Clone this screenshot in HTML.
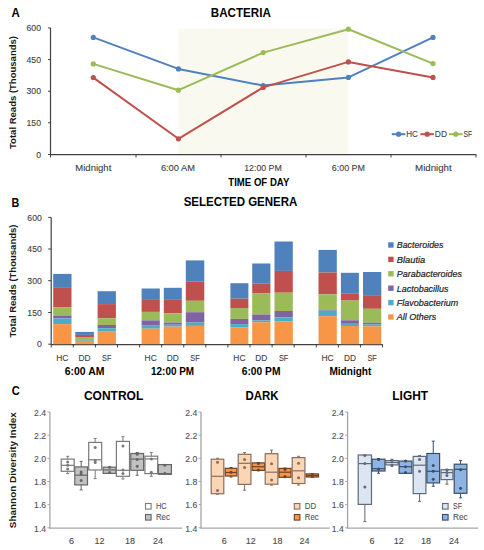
<!DOCTYPE html>
<html><head><meta charset="utf-8"><style>
html,body{margin:0;padding:0;background:#fff;width:484px;height:550px;overflow:hidden}
svg{display:block;font-family:"Liberation Sans", sans-serif}
</style></head><body>
<svg width="484" height="550" viewBox="0 0 484 550">
<rect width="484" height="550" fill="#fff"/>
<text x="11.6" y="16.6" font-size="12.3" text-anchor="start" font-weight="bold" font-style="normal" fill="#000" textLength="8.3" lengthAdjust="spacingAndGlyphs" >A</text>
<text x="240.8" y="16.5" font-size="12.5" text-anchor="middle" font-weight="bold" font-style="normal" fill="#000" textLength="60" lengthAdjust="spacingAndGlyphs" >BACTERIA</text>
<rect x="178.4" y="28.5" width="169.7" height="126" fill="#FAF9F0" stroke="none" stroke-width="0"/>
<line x1="50.5" y1="27.9" x2="50.5" y2="155.2" stroke="#404040" stroke-width="1.2"/>
<line x1="50" y1="154.6" x2="476.3" y2="154.6" stroke="#404040" stroke-width="1.2"/>
<line x1="48" y1="27.9" x2="50.5" y2="27.9" stroke="#404040" stroke-width="1"/>
<text x="41" y="31.0" font-size="8.7" text-anchor="end" font-weight="normal" font-style="normal" fill="#404040" stroke="#404040" stroke-width="0.1" >600</text>
<line x1="48" y1="59.6" x2="50.5" y2="59.6" stroke="#404040" stroke-width="1"/>
<text x="41" y="62.7" font-size="8.7" text-anchor="end" font-weight="normal" font-style="normal" fill="#404040" stroke="#404040" stroke-width="0.1" >450</text>
<line x1="48" y1="91.2" x2="50.5" y2="91.2" stroke="#404040" stroke-width="1"/>
<text x="41" y="94.3" font-size="8.7" text-anchor="end" font-weight="normal" font-style="normal" fill="#404040" stroke="#404040" stroke-width="0.1" >300</text>
<line x1="48" y1="122.8" x2="50.5" y2="122.8" stroke="#404040" stroke-width="1"/>
<text x="41" y="125.89999999999999" font-size="8.7" text-anchor="end" font-weight="normal" font-style="normal" fill="#404040" stroke="#404040" stroke-width="0.1" >150</text>
<line x1="48" y1="154.5" x2="50.5" y2="154.5" stroke="#404040" stroke-width="1"/>
<text x="41" y="157.6" font-size="8.7" text-anchor="end" font-weight="normal" font-style="normal" fill="#404040" stroke="#404040" stroke-width="0.1" >0</text>
<line x1="50.5" y1="154.5" x2="50.5" y2="157.5" stroke="#404040" stroke-width="1"/>
<line x1="136" y1="154.5" x2="136" y2="157.5" stroke="#404040" stroke-width="1"/>
<line x1="221" y1="154.5" x2="221" y2="157.5" stroke="#404040" stroke-width="1"/>
<line x1="306" y1="154.5" x2="306" y2="157.5" stroke="#404040" stroke-width="1"/>
<line x1="391" y1="154.5" x2="391" y2="157.5" stroke="#404040" stroke-width="1"/>
<line x1="476" y1="154.5" x2="476" y2="157.5" stroke="#404040" stroke-width="1"/>
<text x="93.3" y="170.6" font-size="8.7" text-anchor="middle" font-weight="normal" font-style="normal" fill="#404040" textLength="36" lengthAdjust="spacingAndGlyphs" stroke="#404040" stroke-width="0.1" >Midnight</text>
<text x="177.9" y="170.6" font-size="8.7" text-anchor="middle" font-weight="normal" font-style="normal" fill="#404040" textLength="34" lengthAdjust="spacingAndGlyphs" stroke="#404040" stroke-width="0.1" >6:00 AM</text>
<text x="263" y="170.6" font-size="8.7" text-anchor="middle" font-weight="normal" font-style="normal" fill="#404040" textLength="37.6" lengthAdjust="spacingAndGlyphs" stroke="#404040" stroke-width="0.1" >12:00 PM</text>
<text x="348.4" y="170.6" font-size="8.7" text-anchor="middle" font-weight="normal" font-style="normal" fill="#404040" textLength="33.1" lengthAdjust="spacingAndGlyphs" stroke="#404040" stroke-width="0.1" >6:00 PM</text>
<text x="433.4" y="170.6" font-size="8.7" text-anchor="middle" font-weight="normal" font-style="normal" fill="#404040" textLength="36.6" lengthAdjust="spacingAndGlyphs" stroke="#404040" stroke-width="0.1" >Midnight</text>
<text x="258.8" y="185.5" font-size="10" text-anchor="middle" font-weight="bold" font-style="normal" fill="#000" textLength="61" lengthAdjust="spacingAndGlyphs" >TIME OF DAY</text>
<text transform="translate(15.8,92.5) rotate(-90)" font-size="9.3" text-anchor="middle" font-weight="bold" fill="#1a1a1a" textLength="113" lengthAdjust="spacingAndGlyphs">Total Reads (Thousands)</text>
<polyline points="93.3,37.4 178.4,68.9 263.2,85.6 348.4,77.4 433.0,37.4" fill="none" stroke="#4F81BD" stroke-width="2" stroke-linejoin="round"/>
<circle cx="93.3" cy="37.4" r="2.6" fill="#4F81BD"/>
<circle cx="178.4" cy="68.9" r="2.6" fill="#4F81BD"/>
<circle cx="263.2" cy="85.6" r="2.6" fill="#4F81BD"/>
<circle cx="348.4" cy="77.4" r="2.6" fill="#4F81BD"/>
<circle cx="433.0" cy="37.4" r="2.6" fill="#4F81BD"/>
<polyline points="93.3,77.6 178.4,138.8 263.2,87.4 348.4,61.9 433.0,77.4" fill="none" stroke="#C0504D" stroke-width="2" stroke-linejoin="round"/>
<circle cx="93.3" cy="77.6" r="2.6" fill="#C0504D"/>
<circle cx="178.4" cy="138.8" r="2.6" fill="#C0504D"/>
<circle cx="263.2" cy="87.4" r="2.6" fill="#C0504D"/>
<circle cx="348.4" cy="61.9" r="2.6" fill="#C0504D"/>
<circle cx="433.0" cy="77.4" r="2.6" fill="#C0504D"/>
<polyline points="93.3,63.9 178.4,90.2 263.2,52.6 348.4,29.2 433.0,63.6" fill="none" stroke="#9BBB59" stroke-width="2" stroke-linejoin="round"/>
<circle cx="93.3" cy="63.9" r="2.6" fill="#9BBB59"/>
<circle cx="178.4" cy="90.2" r="2.6" fill="#9BBB59"/>
<circle cx="263.2" cy="52.6" r="2.6" fill="#9BBB59"/>
<circle cx="348.4" cy="29.2" r="2.6" fill="#9BBB59"/>
<circle cx="433.0" cy="63.6" r="2.6" fill="#9BBB59"/>
<line x1="391.8" y1="134.2" x2="405.40000000000003" y2="134.2" stroke="#4F81BD" stroke-width="2"/>
<circle cx="398.6" cy="134.2" r="2.6" fill="#4F81BD"/>
<text x="406.2" y="137.2" font-size="9.4" text-anchor="start" font-weight="normal" font-style="normal" fill="#404040" textLength="11.6" lengthAdjust="spacingAndGlyphs" stroke="#404040" stroke-width="0.1" >HC</text>
<line x1="420.4" y1="134.2" x2="434.0" y2="134.2" stroke="#C0504D" stroke-width="2"/>
<circle cx="427.2" cy="134.2" r="2.6" fill="#C0504D"/>
<text x="434.79999999999995" y="137.2" font-size="9.4" text-anchor="start" font-weight="normal" font-style="normal" fill="#404040" textLength="12.2" lengthAdjust="spacingAndGlyphs" stroke="#404040" stroke-width="0.1" >DD</text>
<line x1="449" y1="134.2" x2="462.6" y2="134.2" stroke="#9BBB59" stroke-width="2"/>
<circle cx="455.8" cy="134.2" r="2.6" fill="#9BBB59"/>
<text x="463.4" y="137.2" font-size="9.4" text-anchor="start" font-weight="normal" font-style="normal" fill="#404040" textLength="8.7" lengthAdjust="spacingAndGlyphs" stroke="#404040" stroke-width="0.1" >SF</text>
<text x="11.6" y="206.5" font-size="12.3" text-anchor="start" font-weight="bold" font-style="normal" fill="#000" textLength="7.8" lengthAdjust="spacingAndGlyphs" >B</text>
<text x="240.5" y="206.1" font-size="12.5" text-anchor="middle" font-weight="bold" font-style="normal" fill="#000" textLength="113.7" lengthAdjust="spacingAndGlyphs" >SELECTED GENERA</text>
<line x1="51.2" y1="217.4" x2="51.2" y2="345" stroke="#404040" stroke-width="1.2"/>
<line x1="51" y1="344.6" x2="382.8" y2="344.6" stroke="#404040" stroke-width="1.2"/>
<line x1="48.2" y1="217.4" x2="51.2" y2="217.4" stroke="#404040" stroke-width="1"/>
<text x="41.8" y="220.5" font-size="8.7" text-anchor="end" font-weight="normal" font-style="normal" fill="#404040" stroke="#404040" stroke-width="0.1" >600</text>
<line x1="48.2" y1="249" x2="51.2" y2="249" stroke="#404040" stroke-width="1"/>
<text x="41.8" y="252.1" font-size="8.7" text-anchor="end" font-weight="normal" font-style="normal" fill="#404040" stroke="#404040" stroke-width="0.1" >450</text>
<line x1="48.2" y1="280.7" x2="51.2" y2="280.7" stroke="#404040" stroke-width="1"/>
<text x="41.8" y="283.8" font-size="8.7" text-anchor="end" font-weight="normal" font-style="normal" fill="#404040" stroke="#404040" stroke-width="0.1" >300</text>
<line x1="48.2" y1="312.5" x2="51.2" y2="312.5" stroke="#404040" stroke-width="1"/>
<text x="41.8" y="315.6" font-size="8.7" text-anchor="end" font-weight="normal" font-style="normal" fill="#404040" stroke="#404040" stroke-width="0.1" >150</text>
<line x1="48.2" y1="344.2" x2="51.2" y2="344.2" stroke="#404040" stroke-width="1"/>
<text x="41.8" y="347.3" font-size="8.7" text-anchor="end" font-weight="normal" font-style="normal" fill="#404040" stroke="#404040" stroke-width="0.1" >0</text>
<line x1="51.2" y1="344.6" x2="51.2" y2="347.4" stroke="#404040" stroke-width="1"/>
<line x1="73.29" y1="344.6" x2="73.29" y2="347.4" stroke="#404040" stroke-width="1"/>
<line x1="95.38" y1="344.6" x2="95.38" y2="347.4" stroke="#404040" stroke-width="1"/>
<line x1="117.47" y1="344.6" x2="117.47" y2="347.4" stroke="#404040" stroke-width="1"/>
<line x1="139.56" y1="344.6" x2="139.56" y2="347.4" stroke="#404040" stroke-width="1"/>
<line x1="161.65" y1="344.6" x2="161.65" y2="347.4" stroke="#404040" stroke-width="1"/>
<line x1="183.74" y1="344.6" x2="183.74" y2="347.4" stroke="#404040" stroke-width="1"/>
<line x1="205.82999999999998" y1="344.6" x2="205.82999999999998" y2="347.4" stroke="#404040" stroke-width="1"/>
<line x1="227.92000000000002" y1="344.6" x2="227.92000000000002" y2="347.4" stroke="#404040" stroke-width="1"/>
<line x1="250.01" y1="344.6" x2="250.01" y2="347.4" stroke="#404040" stroke-width="1"/>
<line x1="272.1" y1="344.6" x2="272.1" y2="347.4" stroke="#404040" stroke-width="1"/>
<line x1="294.19" y1="344.6" x2="294.19" y2="347.4" stroke="#404040" stroke-width="1"/>
<line x1="316.28" y1="344.6" x2="316.28" y2="347.4" stroke="#404040" stroke-width="1"/>
<line x1="338.37" y1="344.6" x2="338.37" y2="347.4" stroke="#404040" stroke-width="1"/>
<line x1="360.46" y1="344.6" x2="360.46" y2="347.4" stroke="#404040" stroke-width="1"/>
<line x1="382.55" y1="344.6" x2="382.55" y2="347.4" stroke="#404040" stroke-width="1"/>
<text transform="translate(15.8,281) rotate(-90)" font-size="9.3" text-anchor="middle" font-weight="bold" fill="#1a1a1a" textLength="113" lengthAdjust="spacingAndGlyphs">Total Reads (Thousands)</text>
<rect x="53.2" y="273.9" width="18.3" height="13.3" fill="#4F81BD" stroke="none" stroke-width="0"/>
<rect x="53.2" y="287.2" width="18.3" height="19.9" fill="#C0504D" stroke="none" stroke-width="0"/>
<rect x="53.2" y="307.1" width="18.3" height="8.4" fill="#9BBB59" stroke="none" stroke-width="0"/>
<rect x="53.2" y="315.5" width="18.3" height="2.9" fill="#8064A2" stroke="none" stroke-width="0"/>
<rect x="53.2" y="318.4" width="18.3" height="5.7" fill="#4BACC6" stroke="none" stroke-width="0"/>
<rect x="53.2" y="324.1" width="18.3" height="20.1" fill="#F79646" stroke="none" stroke-width="0"/>
<rect x="75.3" y="331.9" width="18.6" height="3.0" fill="#4F81BD" stroke="none" stroke-width="0"/>
<rect x="75.3" y="334.9" width="18.6" height="2.1" fill="#C0504D" stroke="none" stroke-width="0"/>
<rect x="75.3" y="337.0" width="18.6" height="2.2" fill="#9BBB59" stroke="none" stroke-width="0"/>
<rect x="75.3" y="339.2" width="18.6" height="0.5" fill="#8064A2" stroke="none" stroke-width="0"/>
<rect x="75.3" y="339.7" width="18.6" height="1.1" fill="#4BACC6" stroke="none" stroke-width="0"/>
<rect x="75.3" y="340.8" width="18.6" height="3.4" fill="#F79646" stroke="none" stroke-width="0"/>
<rect x="97.6" y="291.2" width="18.3" height="12.9" fill="#4F81BD" stroke="none" stroke-width="0"/>
<rect x="97.6" y="304.1" width="18.3" height="14.2" fill="#C0504D" stroke="none" stroke-width="0"/>
<rect x="97.6" y="318.3" width="18.3" height="6.7" fill="#9BBB59" stroke="none" stroke-width="0"/>
<rect x="97.6" y="325.0" width="18.3" height="3.2" fill="#8064A2" stroke="none" stroke-width="0"/>
<rect x="97.6" y="328.2" width="18.3" height="3.5" fill="#4BACC6" stroke="none" stroke-width="0"/>
<rect x="97.6" y="331.7" width="18.3" height="12.5" fill="#F79646" stroke="none" stroke-width="0"/>
<rect x="141.6" y="288.5" width="18.2" height="11.4" fill="#4F81BD" stroke="none" stroke-width="0"/>
<rect x="141.6" y="299.9" width="18.2" height="12.0" fill="#C0504D" stroke="none" stroke-width="0"/>
<rect x="141.6" y="311.9" width="18.2" height="8.5" fill="#9BBB59" stroke="none" stroke-width="0"/>
<rect x="141.6" y="320.4" width="18.2" height="5.3" fill="#8064A2" stroke="none" stroke-width="0"/>
<rect x="141.6" y="325.7" width="18.2" height="3.0" fill="#4BACC6" stroke="none" stroke-width="0"/>
<rect x="141.6" y="328.7" width="18.2" height="15.5" fill="#F79646" stroke="none" stroke-width="0"/>
<rect x="163.8" y="287.8" width="18.0" height="11.4" fill="#4F81BD" stroke="none" stroke-width="0"/>
<rect x="163.8" y="299.2" width="18.0" height="14.2" fill="#C0504D" stroke="none" stroke-width="0"/>
<rect x="163.8" y="313.4" width="18.0" height="9.2" fill="#9BBB59" stroke="none" stroke-width="0"/>
<rect x="163.8" y="322.6" width="18.0" height="2.1" fill="#8064A2" stroke="none" stroke-width="0"/>
<rect x="163.8" y="324.7" width="18.0" height="1.9" fill="#4BACC6" stroke="none" stroke-width="0"/>
<rect x="163.8" y="326.6" width="18.0" height="17.6" fill="#F79646" stroke="none" stroke-width="0"/>
<rect x="185.8" y="260.4" width="18.5" height="21.3" fill="#4F81BD" stroke="none" stroke-width="0"/>
<rect x="185.8" y="281.7" width="18.5" height="19.1" fill="#C0504D" stroke="none" stroke-width="0"/>
<rect x="185.8" y="300.8" width="18.5" height="11.4" fill="#9BBB59" stroke="none" stroke-width="0"/>
<rect x="185.8" y="312.2" width="18.5" height="10.4" fill="#8064A2" stroke="none" stroke-width="0"/>
<rect x="185.8" y="322.6" width="18.5" height="3.3" fill="#4BACC6" stroke="none" stroke-width="0"/>
<rect x="185.8" y="325.9" width="18.5" height="18.3" fill="#F79646" stroke="none" stroke-width="0"/>
<rect x="230.4" y="283.2" width="18.0" height="15.5" fill="#4F81BD" stroke="none" stroke-width="0"/>
<rect x="230.4" y="298.7" width="18.0" height="9.3" fill="#C0504D" stroke="none" stroke-width="0"/>
<rect x="230.4" y="308.0" width="18.0" height="10.9" fill="#9BBB59" stroke="none" stroke-width="0"/>
<rect x="230.4" y="318.9" width="18.0" height="5.2" fill="#8064A2" stroke="none" stroke-width="0"/>
<rect x="230.4" y="324.1" width="18.0" height="3.5" fill="#4BACC6" stroke="none" stroke-width="0"/>
<rect x="230.4" y="327.6" width="18.0" height="16.6" fill="#F79646" stroke="none" stroke-width="0"/>
<rect x="252.2" y="263.5" width="18.2" height="20.2" fill="#4F81BD" stroke="none" stroke-width="0"/>
<rect x="252.2" y="283.7" width="18.2" height="9.8" fill="#C0504D" stroke="none" stroke-width="0"/>
<rect x="252.2" y="293.5" width="18.2" height="21.0" fill="#9BBB59" stroke="none" stroke-width="0"/>
<rect x="252.2" y="314.5" width="18.2" height="5.8" fill="#8064A2" stroke="none" stroke-width="0"/>
<rect x="252.2" y="320.3" width="18.2" height="1.9" fill="#4BACC6" stroke="none" stroke-width="0"/>
<rect x="252.2" y="322.2" width="18.2" height="22.0" fill="#F79646" stroke="none" stroke-width="0"/>
<rect x="274.5" y="241.5" width="18.3" height="29.4" fill="#4F81BD" stroke="none" stroke-width="0"/>
<rect x="274.5" y="270.9" width="18.3" height="21.8" fill="#C0504D" stroke="none" stroke-width="0"/>
<rect x="274.5" y="292.7" width="18.3" height="18.3" fill="#9BBB59" stroke="none" stroke-width="0"/>
<rect x="274.5" y="311.0" width="18.3" height="6.5" fill="#8064A2" stroke="none" stroke-width="0"/>
<rect x="274.5" y="317.5" width="18.3" height="4.1" fill="#4BACC6" stroke="none" stroke-width="0"/>
<rect x="274.5" y="321.6" width="18.3" height="22.6" fill="#F79646" stroke="none" stroke-width="0"/>
<rect x="318.5" y="249.9" width="18.3" height="22.6" fill="#4F81BD" stroke="none" stroke-width="0"/>
<rect x="318.5" y="272.5" width="18.3" height="21.9" fill="#C0504D" stroke="none" stroke-width="0"/>
<rect x="318.5" y="294.4" width="18.3" height="15.5" fill="#9BBB59" stroke="none" stroke-width="0"/>
<rect x="318.5" y="309.9" width="18.3" height="0.8" fill="#8064A2" stroke="none" stroke-width="0"/>
<rect x="318.5" y="310.7" width="18.3" height="5.5" fill="#4BACC6" stroke="none" stroke-width="0"/>
<rect x="318.5" y="316.2" width="18.3" height="28.0" fill="#F79646" stroke="none" stroke-width="0"/>
<rect x="340.9" y="272.8" width="18.0" height="20.5" fill="#4F81BD" stroke="none" stroke-width="0"/>
<rect x="340.9" y="293.3" width="18.0" height="7.3" fill="#C0504D" stroke="none" stroke-width="0"/>
<rect x="340.9" y="300.6" width="18.0" height="19.7" fill="#9BBB59" stroke="none" stroke-width="0"/>
<rect x="340.9" y="320.3" width="18.0" height="3.5" fill="#8064A2" stroke="none" stroke-width="0"/>
<rect x="340.9" y="323.8" width="18.0" height="2.2" fill="#4BACC6" stroke="none" stroke-width="0"/>
<rect x="340.9" y="326.0" width="18.0" height="18.2" fill="#F79646" stroke="none" stroke-width="0"/>
<rect x="363.0" y="272.0" width="18.3" height="23.2" fill="#4F81BD" stroke="none" stroke-width="0"/>
<rect x="363.0" y="295.2" width="18.3" height="13.6" fill="#C0504D" stroke="none" stroke-width="0"/>
<rect x="363.0" y="308.8" width="18.3" height="13.9" fill="#9BBB59" stroke="none" stroke-width="0"/>
<rect x="363.0" y="322.7" width="18.3" height="1.7" fill="#8064A2" stroke="none" stroke-width="0"/>
<rect x="363.0" y="324.4" width="18.3" height="1.9" fill="#4BACC6" stroke="none" stroke-width="0"/>
<rect x="363.0" y="326.3" width="18.3" height="17.9" fill="#F79646" stroke="none" stroke-width="0"/>
<text x="62.3" y="360.7" font-size="8.8" text-anchor="middle" font-weight="normal" font-style="normal" fill="#404040" textLength="12.2" lengthAdjust="spacingAndGlyphs" stroke="#404040" stroke-width="0.1" >HC</text>
<text x="84.5" y="360.7" font-size="8.8" text-anchor="middle" font-weight="normal" font-style="normal" fill="#404040" textLength="12" lengthAdjust="spacingAndGlyphs" stroke="#404040" stroke-width="0.1" >DD</text>
<text x="106.7" y="360.7" font-size="8.8" text-anchor="middle" font-weight="normal" font-style="normal" fill="#404040" textLength="9.4" lengthAdjust="spacingAndGlyphs" stroke="#404040" stroke-width="0.1" >SF</text>
<text x="150.7" y="360.7" font-size="8.8" text-anchor="middle" font-weight="normal" font-style="normal" fill="#404040" textLength="12.2" lengthAdjust="spacingAndGlyphs" stroke="#404040" stroke-width="0.1" >HC</text>
<text x="172.8" y="360.7" font-size="8.8" text-anchor="middle" font-weight="normal" font-style="normal" fill="#404040" textLength="12" lengthAdjust="spacingAndGlyphs" stroke="#404040" stroke-width="0.1" >DD</text>
<text x="195.0" y="360.7" font-size="8.8" text-anchor="middle" font-weight="normal" font-style="normal" fill="#404040" textLength="9.4" lengthAdjust="spacingAndGlyphs" stroke="#404040" stroke-width="0.1" >SF</text>
<text x="239.4" y="360.7" font-size="8.8" text-anchor="middle" font-weight="normal" font-style="normal" fill="#404040" textLength="12.2" lengthAdjust="spacingAndGlyphs" stroke="#404040" stroke-width="0.1" >HC</text>
<text x="261.3" y="360.7" font-size="8.8" text-anchor="middle" font-weight="normal" font-style="normal" fill="#404040" textLength="12" lengthAdjust="spacingAndGlyphs" stroke="#404040" stroke-width="0.1" >DD</text>
<text x="283.6" y="360.7" font-size="8.8" text-anchor="middle" font-weight="normal" font-style="normal" fill="#404040" textLength="9.4" lengthAdjust="spacingAndGlyphs" stroke="#404040" stroke-width="0.1" >SF</text>
<text x="327.6" y="360.7" font-size="8.8" text-anchor="middle" font-weight="normal" font-style="normal" fill="#404040" textLength="12.2" lengthAdjust="spacingAndGlyphs" stroke="#404040" stroke-width="0.1" >HC</text>
<text x="349.9" y="360.7" font-size="8.8" text-anchor="middle" font-weight="normal" font-style="normal" fill="#404040" textLength="12" lengthAdjust="spacingAndGlyphs" stroke="#404040" stroke-width="0.1" >DD</text>
<text x="372.1" y="360.7" font-size="8.8" text-anchor="middle" font-weight="normal" font-style="normal" fill="#404040" textLength="9.4" lengthAdjust="spacingAndGlyphs" stroke="#404040" stroke-width="0.1" >SF</text>
<text x="84.6" y="374.6" font-size="10" text-anchor="middle" font-weight="bold" font-style="normal" fill="#000" textLength="39.7" lengthAdjust="spacingAndGlyphs" >6:00 AM</text>
<text x="172.6" y="374.6" font-size="10" text-anchor="middle" font-weight="bold" font-style="normal" fill="#000" textLength="43" lengthAdjust="spacingAndGlyphs" >12:00 PM</text>
<text x="261.1" y="374.6" font-size="10" text-anchor="middle" font-weight="bold" font-style="normal" fill="#000" textLength="38.7" lengthAdjust="spacingAndGlyphs" >6:00 PM</text>
<text x="350.4" y="374.6" font-size="10" text-anchor="middle" font-weight="bold" font-style="normal" fill="#000" textLength="41.9" lengthAdjust="spacingAndGlyphs" >Midnight</text>
<rect x="388.2" y="242.3" width="5.4" height="5.4" fill="#4F81BD" stroke="none" stroke-width="0"/>
<text x="396.8" y="248.3" font-size="9" text-anchor="start" font-weight="normal" font-style="italic" fill="#222" textLength="46.6" lengthAdjust="spacingAndGlyphs" stroke="#222" stroke-width="0.2" >Bacteroides</text>
<rect x="388.2" y="256.7" width="5.4" height="5.4" fill="#C0504D" stroke="none" stroke-width="0"/>
<text x="396.8" y="262.7" font-size="9" text-anchor="start" font-weight="normal" font-style="italic" fill="#222" textLength="28.5" lengthAdjust="spacingAndGlyphs" stroke="#222" stroke-width="0.2" >Blautia</text>
<rect x="388.2" y="271.1" width="5.4" height="5.4" fill="#9BBB59" stroke="none" stroke-width="0"/>
<text x="396.8" y="277.1" font-size="9" text-anchor="start" font-weight="normal" font-style="italic" fill="#222" textLength="65.2" lengthAdjust="spacingAndGlyphs" stroke="#222" stroke-width="0.2" >Parabacteroides</text>
<rect x="388.2" y="285.5" width="5.4" height="5.4" fill="#8064A2" stroke="none" stroke-width="0"/>
<text x="396.8" y="291.5" font-size="9" text-anchor="start" font-weight="normal" font-style="italic" fill="#222" textLength="51.7" lengthAdjust="spacingAndGlyphs" stroke="#222" stroke-width="0.2" >Lactobacillus</text>
<rect x="388.2" y="299.90000000000003" width="5.4" height="5.4" fill="#4BACC6" stroke="none" stroke-width="0"/>
<text x="396.8" y="305.90000000000003" font-size="9" text-anchor="start" font-weight="normal" font-style="italic" fill="#222" textLength="61.5" lengthAdjust="spacingAndGlyphs" stroke="#222" stroke-width="0.2" >Flavobacterium</text>
<rect x="388.2" y="314.3" width="5.4" height="5.4" fill="#F79646" stroke="none" stroke-width="0"/>
<text x="396.8" y="320.3" font-size="9" text-anchor="start" font-weight="normal" font-style="italic" fill="#222" textLength="39.5" lengthAdjust="spacingAndGlyphs" stroke="#222" stroke-width="0.2" >All Others</text>
<text x="11.7" y="395.4" font-size="12.3" text-anchor="start" font-weight="bold" font-style="normal" fill="#000" textLength="8" lengthAdjust="spacingAndGlyphs" >C</text>
<text x="113.6" y="400" font-size="13" text-anchor="middle" font-weight="bold" font-style="normal" fill="#000" textLength="59.3" lengthAdjust="spacingAndGlyphs" >CONTROL</text>
<line x1="49.9" y1="412" x2="49.9" y2="528.8" stroke="#A6A6A6" stroke-width="1.3"/>
<line x1="49.9" y1="528.2" x2="182.2" y2="528.2" stroke="#A6A6A6" stroke-width="1.3"/>
<line x1="47.4" y1="412.0" x2="49.9" y2="412.0" stroke="#A6A6A6" stroke-width="1"/>
<text x="46.1" y="415.7" font-size="8.7" text-anchor="end" font-weight="normal" font-style="normal" fill="#505050" textLength="12" lengthAdjust="spacingAndGlyphs" stroke="#505050" stroke-width="0.1" >2.4</text>
<line x1="47.4" y1="435.16" x2="49.9" y2="435.16" stroke="#A6A6A6" stroke-width="1"/>
<text x="46.1" y="438.86" font-size="8.7" text-anchor="end" font-weight="normal" font-style="normal" fill="#505050" textLength="12" lengthAdjust="spacingAndGlyphs" stroke="#505050" stroke-width="0.1" >2.2</text>
<line x1="47.4" y1="458.32" x2="49.9" y2="458.32" stroke="#A6A6A6" stroke-width="1"/>
<text x="46.1" y="462.02" font-size="8.7" text-anchor="end" font-weight="normal" font-style="normal" fill="#505050" textLength="12" lengthAdjust="spacingAndGlyphs" stroke="#505050" stroke-width="0.1" >2.0</text>
<line x1="47.4" y1="481.48" x2="49.9" y2="481.48" stroke="#A6A6A6" stroke-width="1"/>
<text x="46.1" y="485.18" font-size="8.7" text-anchor="end" font-weight="normal" font-style="normal" fill="#505050" textLength="12" lengthAdjust="spacingAndGlyphs" stroke="#505050" stroke-width="0.1" >1.8</text>
<line x1="47.4" y1="504.64" x2="49.9" y2="504.64" stroke="#A6A6A6" stroke-width="1"/>
<text x="46.1" y="508.34" font-size="8.7" text-anchor="end" font-weight="normal" font-style="normal" fill="#505050" textLength="12" lengthAdjust="spacingAndGlyphs" stroke="#505050" stroke-width="0.1" >1.6</text>
<line x1="47.4" y1="527.8" x2="49.9" y2="527.8" stroke="#A6A6A6" stroke-width="1"/>
<text x="46.1" y="531.5" font-size="8.7" text-anchor="end" font-weight="normal" font-style="normal" fill="#505050" textLength="12" lengthAdjust="spacingAndGlyphs" stroke="#505050" stroke-width="0.1" >1.4</text>
<line x1="67.7" y1="456.3" x2="67.7" y2="459.1" stroke="#7A7A7A" stroke-width="1"/>
<line x1="67.7" y1="471.3" x2="67.7" y2="473.6" stroke="#7A7A7A" stroke-width="1"/>
<line x1="66.2" y1="456.3" x2="69.2" y2="456.3" stroke="#7A7A7A" stroke-width="1"/>
<line x1="66.2" y1="473.6" x2="69.2" y2="473.6" stroke="#7A7A7A" stroke-width="1"/>
<rect x="61.2" y="459.1" width="13.0" height="12.2" fill="#FFFFFF" stroke="#7A7A7A" stroke-width="1.2"/>
<line x1="61.2" y1="465.3" x2="74.2" y2="465.3" stroke="#7A7A7A" stroke-width="1.2"/>
<circle cx="67.7" cy="462" r="1.5" fill="#7A7A7A"/>
<circle cx="67.7" cy="465.3" r="1.5" fill="#7A7A7A"/>
<circle cx="67.7" cy="469" r="1.5" fill="#7A7A7A"/>
<line x1="81.15" y1="461.4" x2="81.15" y2="466.9" stroke="#666666" stroke-width="1"/>
<line x1="81.15" y1="484.9" x2="81.15" y2="489.9" stroke="#666666" stroke-width="1"/>
<line x1="79.65" y1="461.4" x2="82.65" y2="461.4" stroke="#666666" stroke-width="1"/>
<line x1="79.65" y1="489.9" x2="82.65" y2="489.9" stroke="#666666" stroke-width="1"/>
<rect x="74.8" y="466.9" width="12.7" height="18.0" fill="#C2C2C2" stroke="#666666" stroke-width="1.2"/>
<line x1="74.8" y1="475.2" x2="87.5" y2="475.2" stroke="#666666" stroke-width="1.2"/>
<circle cx="81.15" cy="472.1" r="1.5" fill="#666666"/>
<circle cx="81.15" cy="474" r="1.5" fill="#666666"/>
<circle cx="81.15" cy="480.6" r="1.5" fill="#666666"/>
<line x1="95.2" y1="438.4" x2="95.2" y2="442.4" stroke="#7A7A7A" stroke-width="1"/>
<line x1="95.2" y1="470" x2="95.2" y2="478.6" stroke="#7A7A7A" stroke-width="1"/>
<line x1="93.7" y1="438.4" x2="96.7" y2="438.4" stroke="#7A7A7A" stroke-width="1"/>
<line x1="93.7" y1="478.6" x2="96.7" y2="478.6" stroke="#7A7A7A" stroke-width="1"/>
<rect x="88.7" y="442.4" width="13.0" height="27.6" fill="#FFFFFF" stroke="#7A7A7A" stroke-width="1.2"/>
<line x1="88.7" y1="459.8" x2="101.7" y2="459.8" stroke="#7A7A7A" stroke-width="1.2"/>
<circle cx="95.2" cy="447.4" r="1.5" fill="#7A7A7A"/>
<circle cx="95.2" cy="460.4" r="1.5" fill="#7A7A7A"/>
<circle cx="95.2" cy="462.5" r="1.5" fill="#7A7A7A"/>
<line x1="109.55" y1="467.2" x2="109.55" y2="467.2" stroke="#666666" stroke-width="1"/>
<line x1="109.55" y1="473.4" x2="109.55" y2="473.4" stroke="#666666" stroke-width="1"/>
<line x1="108.05" y1="467.2" x2="111.05" y2="467.2" stroke="#666666" stroke-width="1"/>
<line x1="108.05" y1="473.4" x2="111.05" y2="473.4" stroke="#666666" stroke-width="1"/>
<rect x="103.1" y="467.2" width="12.9" height="6.2" fill="#C2C2C2" stroke="#666666" stroke-width="1.2"/>
<line x1="103.1" y1="469.9" x2="116" y2="469.9" stroke="#666666" stroke-width="1.2"/>
<circle cx="109.55" cy="467.2" r="1.5" fill="#666666"/>
<circle cx="109.55" cy="472.4" r="1.5" fill="#666666"/>
<line x1="122.95" y1="436.7" x2="122.95" y2="441.4" stroke="#7A7A7A" stroke-width="1"/>
<line x1="122.95" y1="476.3" x2="122.95" y2="479" stroke="#7A7A7A" stroke-width="1"/>
<line x1="121.45" y1="436.7" x2="124.45" y2="436.7" stroke="#7A7A7A" stroke-width="1"/>
<line x1="121.45" y1="479" x2="124.45" y2="479" stroke="#7A7A7A" stroke-width="1"/>
<rect x="116.4" y="441.4" width="13.1" height="34.9" fill="#FFFFFF" stroke="#7A7A7A" stroke-width="1.2"/>
<line x1="116.4" y1="470.3" x2="129.5" y2="470.3" stroke="#7A7A7A" stroke-width="1.2"/>
<circle cx="122.95" cy="446.1" r="1.5" fill="#7A7A7A"/>
<circle cx="122.95" cy="469.9" r="1.5" fill="#7A7A7A"/>
<circle cx="122.95" cy="473.6" r="1.5" fill="#7A7A7A"/>
<line x1="137.2" y1="452.5" x2="137.2" y2="453.5" stroke="#666666" stroke-width="1"/>
<line x1="137.2" y1="470.3" x2="137.2" y2="475.3" stroke="#666666" stroke-width="1"/>
<line x1="135.7" y1="452.5" x2="138.7" y2="452.5" stroke="#666666" stroke-width="1"/>
<line x1="135.7" y1="475.3" x2="138.7" y2="475.3" stroke="#666666" stroke-width="1"/>
<rect x="130.8" y="453.5" width="12.8" height="16.8" fill="#C2C2C2" stroke="#666666" stroke-width="1.2"/>
<line x1="130.8" y1="459.1" x2="143.6" y2="459.1" stroke="#666666" stroke-width="1.2"/>
<circle cx="137.2" cy="454.2" r="1.5" fill="#666666"/>
<circle cx="137.2" cy="459.5" r="1.5" fill="#666666"/>
<circle cx="137.2" cy="466.3" r="1.5" fill="#666666"/>
<line x1="151.3" y1="452.6" x2="151.3" y2="456.2" stroke="#7A7A7A" stroke-width="1"/>
<line x1="151.3" y1="473.6" x2="151.3" y2="476.3" stroke="#7A7A7A" stroke-width="1"/>
<line x1="149.8" y1="452.6" x2="152.8" y2="452.6" stroke="#7A7A7A" stroke-width="1"/>
<line x1="149.8" y1="476.3" x2="152.8" y2="476.3" stroke="#7A7A7A" stroke-width="1"/>
<rect x="144.9" y="456.2" width="12.8" height="17.4" fill="#FFFFFF" stroke="#7A7A7A" stroke-width="1.2"/>
<line x1="144.9" y1="458.9" x2="157.7" y2="458.9" stroke="#7A7A7A" stroke-width="1.2"/>
<circle cx="151.3" cy="458.9" r="1.5" fill="#7A7A7A"/>
<circle cx="151.3" cy="472.3" r="1.5" fill="#7A7A7A"/>
<line x1="164.85000000000002" y1="464.6" x2="164.85000000000002" y2="464.6" stroke="#666666" stroke-width="1"/>
<line x1="164.85000000000002" y1="474.3" x2="164.85000000000002" y2="474.3" stroke="#666666" stroke-width="1"/>
<line x1="163.35000000000002" y1="464.6" x2="166.35000000000002" y2="464.6" stroke="#666666" stroke-width="1"/>
<line x1="163.35000000000002" y1="474.3" x2="166.35000000000002" y2="474.3" stroke="#666666" stroke-width="1"/>
<rect x="158.3" y="464.6" width="13.1" height="9.7" fill="#C2C2C2" stroke="#666666" stroke-width="1.2"/>
<line x1="158.3" y1="473.6" x2="171.4" y2="473.6" stroke="#666666" stroke-width="1.2"/>
<circle cx="164.85000000000002" cy="465.2" r="1.5" fill="#666666"/>
<circle cx="164.85000000000002" cy="473.2" r="1.5" fill="#666666"/>
<text x="71.6" y="543.7" font-size="9" text-anchor="middle" font-weight="normal" font-style="normal" fill="#484848" stroke="#484848" stroke-width="0.1" >6</text>
<text x="99.5" y="543.7" font-size="9" text-anchor="middle" font-weight="normal" font-style="normal" fill="#484848" stroke="#484848" stroke-width="0.1" >12</text>
<text x="129.9" y="543.7" font-size="9" text-anchor="middle" font-weight="normal" font-style="normal" fill="#484848" stroke="#484848" stroke-width="0.1" >18</text>
<text x="158" y="543.7" font-size="9" text-anchor="middle" font-weight="normal" font-style="normal" fill="#484848" stroke="#484848" stroke-width="0.1" >24</text>
<rect x="145.5" y="503.5" width="5.6" height="5.6" fill="#FFFFFF" stroke="#7A7A7A" stroke-width="1.1"/>
<text x="156.0" y="509.4" font-size="9" text-anchor="start" font-weight="normal" font-style="normal" fill="#505050" textLength="10.7" lengthAdjust="spacingAndGlyphs" stroke="#505050" stroke-width="0.1" >HC</text>
<rect x="145.5" y="514.5" width="5.6" height="5.6" fill="#C2C2C2" stroke="#666666" stroke-width="1.1"/>
<text x="156.0" y="520.4" font-size="9" text-anchor="start" font-weight="normal" font-style="normal" fill="#505050" textLength="13.8" lengthAdjust="spacingAndGlyphs" stroke="#505050" stroke-width="0.1" >Rec</text>
<text x="262.1" y="400" font-size="13" text-anchor="middle" font-weight="bold" font-style="normal" fill="#000" textLength="33.1" lengthAdjust="spacingAndGlyphs" >DARK</text>
<line x1="201" y1="412" x2="201" y2="528.8" stroke="#A6A6A6" stroke-width="1.3"/>
<line x1="201" y1="528.2" x2="329.8" y2="528.2" stroke="#A6A6A6" stroke-width="1.3"/>
<line x1="198.5" y1="412.0" x2="201" y2="412.0" stroke="#A6A6A6" stroke-width="1"/>
<text x="197.2" y="415.7" font-size="8.7" text-anchor="end" font-weight="normal" font-style="normal" fill="#505050" textLength="12" lengthAdjust="spacingAndGlyphs" stroke="#505050" stroke-width="0.1" >2.4</text>
<line x1="198.5" y1="435.16" x2="201" y2="435.16" stroke="#A6A6A6" stroke-width="1"/>
<text x="197.2" y="438.86" font-size="8.7" text-anchor="end" font-weight="normal" font-style="normal" fill="#505050" textLength="12" lengthAdjust="spacingAndGlyphs" stroke="#505050" stroke-width="0.1" >2.2</text>
<line x1="198.5" y1="458.32" x2="201" y2="458.32" stroke="#A6A6A6" stroke-width="1"/>
<text x="197.2" y="462.02" font-size="8.7" text-anchor="end" font-weight="normal" font-style="normal" fill="#505050" textLength="12" lengthAdjust="spacingAndGlyphs" stroke="#505050" stroke-width="0.1" >2.0</text>
<line x1="198.5" y1="481.48" x2="201" y2="481.48" stroke="#A6A6A6" stroke-width="1"/>
<text x="197.2" y="485.18" font-size="8.7" text-anchor="end" font-weight="normal" font-style="normal" fill="#505050" textLength="12" lengthAdjust="spacingAndGlyphs" stroke="#505050" stroke-width="0.1" >1.8</text>
<line x1="198.5" y1="504.64" x2="201" y2="504.64" stroke="#A6A6A6" stroke-width="1"/>
<text x="197.2" y="508.34" font-size="8.7" text-anchor="end" font-weight="normal" font-style="normal" fill="#505050" textLength="12" lengthAdjust="spacingAndGlyphs" stroke="#505050" stroke-width="0.1" >1.6</text>
<line x1="198.5" y1="527.8" x2="201" y2="527.8" stroke="#A6A6A6" stroke-width="1"/>
<text x="197.2" y="531.5" font-size="8.7" text-anchor="end" font-weight="normal" font-style="normal" fill="#505050" textLength="12" lengthAdjust="spacingAndGlyphs" stroke="#505050" stroke-width="0.1" >1.4</text>
<line x1="217.5" y1="458.3" x2="217.5" y2="459.2" stroke="#8A6E5E" stroke-width="1"/>
<line x1="217.5" y1="493.7" x2="217.5" y2="494.2" stroke="#8A6E5E" stroke-width="1"/>
<line x1="216.0" y1="458.3" x2="219.0" y2="458.3" stroke="#8A6E5E" stroke-width="1"/>
<line x1="216.0" y1="494.2" x2="219.0" y2="494.2" stroke="#8A6E5E" stroke-width="1"/>
<rect x="211.2" y="459.2" width="12.6" height="34.5" fill="#FCD5B5" stroke="#8A6E5E" stroke-width="1.2"/>
<line x1="211.2" y1="476.3" x2="223.8" y2="476.3" stroke="#8A6E5E" stroke-width="1.2"/>
<circle cx="217.5" cy="462.3" r="1.5" fill="#8A6E5E"/>
<circle cx="217.5" cy="490.6" r="1.5" fill="#8A6E5E"/>
<line x1="231.05" y1="467.5" x2="231.05" y2="468.3" stroke="#6B4226" stroke-width="1"/>
<line x1="231.05" y1="476.0" x2="231.05" y2="477.0" stroke="#6B4226" stroke-width="1"/>
<line x1="229.55" y1="467.5" x2="232.55" y2="467.5" stroke="#6B4226" stroke-width="1"/>
<line x1="229.55" y1="477.0" x2="232.55" y2="477.0" stroke="#6B4226" stroke-width="1"/>
<rect x="225.2" y="468.3" width="11.7" height="7.7" fill="#F79646" stroke="#6B4226" stroke-width="1.2"/>
<line x1="225.2" y1="472.5" x2="236.9" y2="472.5" stroke="#6B4226" stroke-width="1.2"/>
<circle cx="231.05" cy="472.2" r="1.5" fill="#6B4226"/>
<line x1="244.55" y1="452.6" x2="244.55" y2="454.3" stroke="#8A6E5E" stroke-width="1"/>
<line x1="244.55" y1="484.4" x2="244.55" y2="490.2" stroke="#8A6E5E" stroke-width="1"/>
<line x1="243.05" y1="452.6" x2="246.05" y2="452.6" stroke="#8A6E5E" stroke-width="1"/>
<line x1="243.05" y1="490.2" x2="246.05" y2="490.2" stroke="#8A6E5E" stroke-width="1"/>
<rect x="238.2" y="454.3" width="12.7" height="30.1" fill="#FCD5B5" stroke="#8A6E5E" stroke-width="1.2"/>
<line x1="238.2" y1="463.3" x2="250.9" y2="463.3" stroke="#8A6E5E" stroke-width="1.2"/>
<circle cx="244.55" cy="459.5" r="1.5" fill="#8A6E5E"/>
<circle cx="244.55" cy="467.5" r="1.5" fill="#8A6E5E"/>
<line x1="258.35" y1="462.5" x2="258.35" y2="462.9" stroke="#6B4226" stroke-width="1"/>
<line x1="258.35" y1="470.4" x2="258.35" y2="470.6" stroke="#6B4226" stroke-width="1"/>
<line x1="256.85" y1="462.5" x2="259.85" y2="462.5" stroke="#6B4226" stroke-width="1"/>
<line x1="256.85" y1="470.6" x2="259.85" y2="470.6" stroke="#6B4226" stroke-width="1"/>
<rect x="252.1" y="462.9" width="12.5" height="7.5" fill="#F79646" stroke="#6B4226" stroke-width="1.2"/>
<line x1="252.1" y1="466.7" x2="264.6" y2="466.7" stroke="#6B4226" stroke-width="1.2"/>
<circle cx="258.35" cy="463.6" r="1.5" fill="#6B4226"/>
<circle cx="258.35" cy="470" r="1.5" fill="#6B4226"/>
<line x1="271.54999999999995" y1="450.1" x2="271.54999999999995" y2="453.7" stroke="#8A6E5E" stroke-width="1"/>
<line x1="271.54999999999995" y1="484.2" x2="271.54999999999995" y2="485.2" stroke="#8A6E5E" stroke-width="1"/>
<line x1="270.04999999999995" y1="450.1" x2="273.04999999999995" y2="450.1" stroke="#8A6E5E" stroke-width="1"/>
<line x1="270.04999999999995" y1="485.2" x2="273.04999999999995" y2="485.2" stroke="#8A6E5E" stroke-width="1"/>
<rect x="265.2" y="453.7" width="12.7" height="30.5" fill="#FCD5B5" stroke="#8A6E5E" stroke-width="1.2"/>
<line x1="265.2" y1="472.2" x2="277.9" y2="472.2" stroke="#8A6E5E" stroke-width="1.2"/>
<circle cx="271.54999999999995" cy="463.8" r="1.5" fill="#8A6E5E"/>
<circle cx="271.54999999999995" cy="480" r="1.5" fill="#8A6E5E"/>
<line x1="285.0" y1="468.0" x2="285.0" y2="468.4" stroke="#6B4226" stroke-width="1"/>
<line x1="285.0" y1="477.3" x2="285.0" y2="477.6" stroke="#6B4226" stroke-width="1"/>
<line x1="283.5" y1="468.0" x2="286.5" y2="468.0" stroke="#6B4226" stroke-width="1"/>
<line x1="283.5" y1="477.6" x2="286.5" y2="477.6" stroke="#6B4226" stroke-width="1"/>
<rect x="279.0" y="468.4" width="12.0" height="8.9" fill="#F79646" stroke="#6B4226" stroke-width="1.2"/>
<line x1="279.0" y1="472.2" x2="291.0" y2="472.2" stroke="#6B4226" stroke-width="1.2"/>
<circle cx="285.0" cy="469.5" r="1.5" fill="#6B4226"/>
<circle cx="285.0" cy="476.5" r="1.5" fill="#6B4226"/>
<line x1="298.54999999999995" y1="456.3" x2="298.54999999999995" y2="457.6" stroke="#8A6E5E" stroke-width="1"/>
<line x1="298.54999999999995" y1="483.5" x2="298.54999999999995" y2="485.0" stroke="#8A6E5E" stroke-width="1"/>
<line x1="297.04999999999995" y1="456.3" x2="300.04999999999995" y2="456.3" stroke="#8A6E5E" stroke-width="1"/>
<line x1="297.04999999999995" y1="485.0" x2="300.04999999999995" y2="485.0" stroke="#8A6E5E" stroke-width="1"/>
<rect x="292.2" y="457.6" width="12.7" height="25.9" fill="#FCD5B5" stroke="#8A6E5E" stroke-width="1.2"/>
<line x1="292.2" y1="470.8" x2="304.9" y2="470.8" stroke="#8A6E5E" stroke-width="1.2"/>
<circle cx="298.54999999999995" cy="463.3" r="1.5" fill="#8A6E5E"/>
<circle cx="298.54999999999995" cy="477.7" r="1.5" fill="#8A6E5E"/>
<line x1="312.3" y1="473.5" x2="312.3" y2="473.9" stroke="#6B4226" stroke-width="1"/>
<line x1="312.3" y1="477.0" x2="312.3" y2="477.3" stroke="#6B4226" stroke-width="1"/>
<line x1="310.8" y1="473.5" x2="313.8" y2="473.5" stroke="#6B4226" stroke-width="1"/>
<line x1="310.8" y1="477.3" x2="313.8" y2="477.3" stroke="#6B4226" stroke-width="1"/>
<rect x="306.1" y="473.9" width="12.4" height="3.1" fill="#F79646" stroke="#6B4226" stroke-width="1.2"/>
<line x1="306.1" y1="475.5" x2="318.5" y2="475.5" stroke="#6B4226" stroke-width="1.2"/>
<circle cx="312.3" cy="475.4" r="1.5" fill="#6B4226"/>
<text x="224.2" y="543.7" font-size="9" text-anchor="middle" font-weight="normal" font-style="normal" fill="#484848" stroke="#484848" stroke-width="0.1" >6</text>
<text x="250.7" y="543.7" font-size="9" text-anchor="middle" font-weight="normal" font-style="normal" fill="#484848" stroke="#484848" stroke-width="0.1" >12</text>
<text x="277.4" y="543.7" font-size="9" text-anchor="middle" font-weight="normal" font-style="normal" fill="#484848" stroke="#484848" stroke-width="0.1" >18</text>
<text x="304.5" y="543.7" font-size="9" text-anchor="middle" font-weight="normal" font-style="normal" fill="#484848" stroke="#484848" stroke-width="0.1" >24</text>
<rect x="294.3" y="503.5" width="5.6" height="5.6" fill="#FCD5B5" stroke="#8A6E5E" stroke-width="1.1"/>
<text x="304.8" y="509.4" font-size="9" text-anchor="start" font-weight="normal" font-style="normal" fill="#505050" textLength="11.3" lengthAdjust="spacingAndGlyphs" stroke="#505050" stroke-width="0.1" >DD</text>
<rect x="294.3" y="514.5" width="5.6" height="5.6" fill="#F79646" stroke="#6B4226" stroke-width="1.1"/>
<text x="304.8" y="520.4" font-size="9" text-anchor="start" font-weight="normal" font-style="normal" fill="#505050" textLength="13.8" lengthAdjust="spacingAndGlyphs" stroke="#505050" stroke-width="0.1" >Rec</text>
<text x="410.2" y="400" font-size="13" text-anchor="middle" font-weight="bold" font-style="normal" fill="#000" textLength="35.7" lengthAdjust="spacingAndGlyphs" >LIGHT</text>
<line x1="347.6" y1="412" x2="347.6" y2="528.8" stroke="#A6A6A6" stroke-width="1.3"/>
<line x1="347.6" y1="528.2" x2="478.2" y2="528.2" stroke="#A6A6A6" stroke-width="1.3"/>
<line x1="345.1" y1="412.0" x2="347.6" y2="412.0" stroke="#A6A6A6" stroke-width="1"/>
<text x="343.8" y="415.7" font-size="8.7" text-anchor="end" font-weight="normal" font-style="normal" fill="#505050" textLength="12" lengthAdjust="spacingAndGlyphs" stroke="#505050" stroke-width="0.1" >2.4</text>
<line x1="345.1" y1="435.16" x2="347.6" y2="435.16" stroke="#A6A6A6" stroke-width="1"/>
<text x="343.8" y="438.86" font-size="8.7" text-anchor="end" font-weight="normal" font-style="normal" fill="#505050" textLength="12" lengthAdjust="spacingAndGlyphs" stroke="#505050" stroke-width="0.1" >2.2</text>
<line x1="345.1" y1="458.32" x2="347.6" y2="458.32" stroke="#A6A6A6" stroke-width="1"/>
<text x="343.8" y="462.02" font-size="8.7" text-anchor="end" font-weight="normal" font-style="normal" fill="#505050" textLength="12" lengthAdjust="spacingAndGlyphs" stroke="#505050" stroke-width="0.1" >2.0</text>
<line x1="345.1" y1="481.48" x2="347.6" y2="481.48" stroke="#A6A6A6" stroke-width="1"/>
<text x="343.8" y="485.18" font-size="8.7" text-anchor="end" font-weight="normal" font-style="normal" fill="#505050" textLength="12" lengthAdjust="spacingAndGlyphs" stroke="#505050" stroke-width="0.1" >1.8</text>
<line x1="345.1" y1="504.64" x2="347.6" y2="504.64" stroke="#A6A6A6" stroke-width="1"/>
<text x="343.8" y="508.34" font-size="8.7" text-anchor="end" font-weight="normal" font-style="normal" fill="#505050" textLength="12" lengthAdjust="spacingAndGlyphs" stroke="#505050" stroke-width="0.1" >1.6</text>
<line x1="345.1" y1="527.8" x2="347.6" y2="527.8" stroke="#A6A6A6" stroke-width="1"/>
<text x="343.8" y="531.5" font-size="8.7" text-anchor="end" font-weight="normal" font-style="normal" fill="#505050" textLength="12" lengthAdjust="spacingAndGlyphs" stroke="#505050" stroke-width="0.1" >1.4</text>
<line x1="364.85" y1="455.0" x2="364.85" y2="455.0" stroke="#5F6B7A" stroke-width="1"/>
<line x1="364.85" y1="504.4" x2="364.85" y2="521.6" stroke="#5F6B7A" stroke-width="1"/>
<line x1="363.35" y1="455.0" x2="366.35" y2="455.0" stroke="#5F6B7A" stroke-width="1"/>
<line x1="363.35" y1="521.6" x2="366.35" y2="521.6" stroke="#5F6B7A" stroke-width="1"/>
<rect x="358.2" y="455.0" width="13.3" height="49.4" fill="#DCE6F2" stroke="#5F6B7A" stroke-width="1.2"/>
<line x1="358.2" y1="463.6" x2="371.5" y2="463.6" stroke="#5F6B7A" stroke-width="1.2"/>
<circle cx="364.85" cy="455.5" r="1.5" fill="#5F6B7A"/>
<circle cx="364.85" cy="463.6" r="1.5" fill="#5F6B7A"/>
<circle cx="364.85" cy="487" r="1.5" fill="#5F6B7A"/>
<line x1="378.55" y1="458.5" x2="378.55" y2="459.2" stroke="#3A4D66" stroke-width="1"/>
<line x1="378.55" y1="471.0" x2="378.55" y2="473.3" stroke="#3A4D66" stroke-width="1"/>
<line x1="377.05" y1="458.5" x2="380.05" y2="458.5" stroke="#3A4D66" stroke-width="1"/>
<line x1="377.05" y1="473.3" x2="380.05" y2="473.3" stroke="#3A4D66" stroke-width="1"/>
<rect x="372.1" y="459.2" width="12.9" height="11.8" fill="#8DB4E2" stroke="#3A4D66" stroke-width="1.2"/>
<line x1="372.1" y1="468.7" x2="385.0" y2="468.7" stroke="#3A4D66" stroke-width="1.2"/>
<circle cx="378.55" cy="459.5" r="1.5" fill="#3A4D66"/>
<circle cx="378.55" cy="469" r="1.5" fill="#3A4D66"/>
<line x1="391.95000000000005" y1="459.3" x2="391.95000000000005" y2="460.6" stroke="#5F6B7A" stroke-width="1"/>
<line x1="391.95000000000005" y1="464.9" x2="391.95000000000005" y2="466.3" stroke="#5F6B7A" stroke-width="1"/>
<line x1="390.45000000000005" y1="459.3" x2="393.45000000000005" y2="459.3" stroke="#5F6B7A" stroke-width="1"/>
<line x1="390.45000000000005" y1="466.3" x2="393.45000000000005" y2="466.3" stroke="#5F6B7A" stroke-width="1"/>
<rect x="385.8" y="460.6" width="12.3" height="4.3" fill="#DCE6F2" stroke="#5F6B7A" stroke-width="1.2"/>
<line x1="385.8" y1="462.5" x2="398.1" y2="462.5" stroke="#5F6B7A" stroke-width="1.2"/>
<circle cx="391.95000000000005" cy="460.6" r="1.5" fill="#5F6B7A"/>
<circle cx="391.95000000000005" cy="464.9" r="1.5" fill="#5F6B7A"/>
<line x1="405.5" y1="460.8" x2="405.5" y2="461.1" stroke="#3A4D66" stroke-width="1"/>
<line x1="405.5" y1="473.3" x2="405.5" y2="473.5" stroke="#3A4D66" stroke-width="1"/>
<line x1="404.0" y1="460.8" x2="407.0" y2="460.8" stroke="#3A4D66" stroke-width="1"/>
<line x1="404.0" y1="473.5" x2="407.0" y2="473.5" stroke="#3A4D66" stroke-width="1"/>
<rect x="399.1" y="461.1" width="12.8" height="12.2" fill="#8DB4E2" stroke="#3A4D66" stroke-width="1.2"/>
<line x1="399.1" y1="466.7" x2="411.9" y2="466.7" stroke="#3A4D66" stroke-width="1.2"/>
<circle cx="405.5" cy="461.1" r="1.5" fill="#3A4D66"/>
<circle cx="405.5" cy="466.7" r="1.5" fill="#3A4D66"/>
<circle cx="405.5" cy="472.6" r="1.5" fill="#3A4D66"/>
<line x1="419.54999999999995" y1="455.6" x2="419.54999999999995" y2="456.4" stroke="#5F6B7A" stroke-width="1"/>
<line x1="419.54999999999995" y1="493.6" x2="419.54999999999995" y2="501.4" stroke="#5F6B7A" stroke-width="1"/>
<line x1="418.04999999999995" y1="455.6" x2="421.04999999999995" y2="455.6" stroke="#5F6B7A" stroke-width="1"/>
<line x1="418.04999999999995" y1="501.4" x2="421.04999999999995" y2="501.4" stroke="#5F6B7A" stroke-width="1"/>
<rect x="413.2" y="456.4" width="12.7" height="37.2" fill="#DCE6F2" stroke="#5F6B7A" stroke-width="1.2"/>
<line x1="413.2" y1="465.2" x2="425.9" y2="465.2" stroke="#5F6B7A" stroke-width="1.2"/>
<circle cx="419.54999999999995" cy="459.4" r="1.5" fill="#5F6B7A"/>
<circle cx="419.54999999999995" cy="471.3" r="1.5" fill="#5F6B7A"/>
<line x1="433.25" y1="441.2" x2="433.25" y2="453.5" stroke="#3A4D66" stroke-width="1"/>
<line x1="433.25" y1="482.9" x2="433.25" y2="486.2" stroke="#3A4D66" stroke-width="1"/>
<line x1="431.75" y1="441.2" x2="434.75" y2="441.2" stroke="#3A4D66" stroke-width="1"/>
<line x1="431.75" y1="486.2" x2="434.75" y2="486.2" stroke="#3A4D66" stroke-width="1"/>
<rect x="426.9" y="453.5" width="12.7" height="29.4" fill="#8DB4E2" stroke="#3A4D66" stroke-width="1.2"/>
<line x1="426.9" y1="471.3" x2="439.6" y2="471.3" stroke="#3A4D66" stroke-width="1.2"/>
<circle cx="433.25" cy="465.5" r="1.5" fill="#3A4D66"/>
<circle cx="433.25" cy="471.3" r="1.5" fill="#3A4D66"/>
<circle cx="433.25" cy="479.3" r="1.5" fill="#3A4D66"/>
<line x1="446.95" y1="469.3" x2="446.95" y2="469.7" stroke="#5F6B7A" stroke-width="1"/>
<line x1="446.95" y1="479.6" x2="446.95" y2="484.2" stroke="#5F6B7A" stroke-width="1"/>
<line x1="445.45" y1="469.3" x2="448.45" y2="469.3" stroke="#5F6B7A" stroke-width="1"/>
<line x1="445.45" y1="484.2" x2="448.45" y2="484.2" stroke="#5F6B7A" stroke-width="1"/>
<rect x="441.0" y="469.7" width="11.9" height="9.9" fill="#DCE6F2" stroke="#5F6B7A" stroke-width="1.2"/>
<line x1="441.0" y1="472.6" x2="452.9" y2="472.6" stroke="#5F6B7A" stroke-width="1.2"/>
<circle cx="446.95" cy="470" r="1.5" fill="#5F6B7A"/>
<circle cx="446.95" cy="472.6" r="1.5" fill="#5F6B7A"/>
<circle cx="446.95" cy="475.5" r="1.5" fill="#5F6B7A"/>
<line x1="460.54999999999995" y1="460.6" x2="460.54999999999995" y2="464.2" stroke="#3A4D66" stroke-width="1"/>
<line x1="460.54999999999995" y1="493.3" x2="460.54999999999995" y2="497.8" stroke="#3A4D66" stroke-width="1"/>
<line x1="459.04999999999995" y1="460.6" x2="462.04999999999995" y2="460.6" stroke="#3A4D66" stroke-width="1"/>
<line x1="459.04999999999995" y1="497.8" x2="462.04999999999995" y2="497.8" stroke="#3A4D66" stroke-width="1"/>
<rect x="454.2" y="464.2" width="12.7" height="29.1" fill="#8DB4E2" stroke="#3A4D66" stroke-width="1.2"/>
<line x1="454.2" y1="469.3" x2="466.9" y2="469.3" stroke="#3A4D66" stroke-width="1.2"/>
<circle cx="460.54999999999995" cy="469.7" r="1.5" fill="#3A4D66"/>
<circle cx="460.54999999999995" cy="488.2" r="1.5" fill="#3A4D66"/>
<text x="371.9" y="543.7" font-size="9" text-anchor="middle" font-weight="normal" font-style="normal" fill="#484848" stroke="#484848" stroke-width="0.1" >6</text>
<text x="398.7" y="543.7" font-size="9" text-anchor="middle" font-weight="normal" font-style="normal" fill="#484848" stroke="#484848" stroke-width="0.1" >12</text>
<text x="425.9" y="543.7" font-size="9" text-anchor="middle" font-weight="normal" font-style="normal" fill="#484848" stroke="#484848" stroke-width="0.1" >18</text>
<text x="454" y="543.7" font-size="9" text-anchor="middle" font-weight="normal" font-style="normal" fill="#484848" stroke="#484848" stroke-width="0.1" >24</text>
<rect x="442.5" y="503.5" width="5.6" height="5.6" fill="#DCE6F2" stroke="#5F6B7A" stroke-width="1.1"/>
<text x="453.0" y="509.4" font-size="9" text-anchor="start" font-weight="normal" font-style="normal" fill="#505050" textLength="8.9" lengthAdjust="spacingAndGlyphs" stroke="#505050" stroke-width="0.1" >SF</text>
<rect x="442.5" y="514.5" width="5.6" height="5.6" fill="#8DB4E2" stroke="#3A4D66" stroke-width="1.1"/>
<text x="453.0" y="520.4" font-size="9" text-anchor="start" font-weight="normal" font-style="normal" fill="#505050" textLength="14.6" lengthAdjust="spacingAndGlyphs" stroke="#505050" stroke-width="0.1" >Rec</text>
<text transform="translate(15.8,470.2) rotate(-90)" font-size="9.3" text-anchor="middle" font-weight="bold" fill="#1a1a1a" textLength="116" lengthAdjust="spacingAndGlyphs">Shannon Diversity Index</text>
</svg></body></html>
